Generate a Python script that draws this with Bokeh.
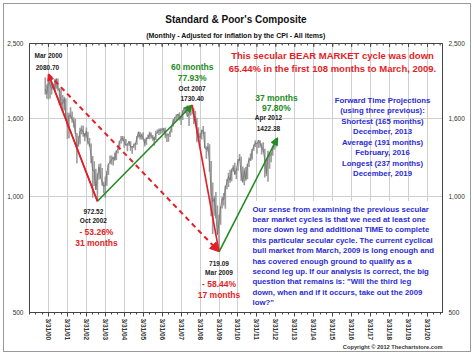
import numpy as np
from datetime import datetime
from bokeh.plotting import figure
from bokeh.models import (Range1d, FixedTicker, LogAxis, NumeralTickFormatter,
                          Label, Arrow, NormalHead, BoxAnnotation, Title)
from bokeh.core.properties import value
from bokeh.embed import file_html
from bokeh.resources import INLINE

# ---------------- data (inflation-adjusted monthly S&P, Jan 2000 .. Apr 2012) -------------
high = [
    2040, 1956, 2080.70, 2051, 1987, 1968, 2022, 2031, 2027, 1917, 1905, 1836,
    1819, 1801, 1655, 1651, 1706, 1664, 1608, 1591, 1464, 1439, 1511, 1530,
    1529, 1463, 1513, 1474, 1421, 1375, 1275, 1235, 1182, 1148, 1216, 1219,
    1187, 1093, 1128, 1164, 1218, 1279, 1279, 1269, 1302, 1318, 1334, 1396,
    1438, 1437, 1433, 1412, 1375, 1396, 1392, 1353, 1375, 1381, 1437, 1476,
    1473, 1459, 1469, 1415, 1426, 1448, 1474, 1467, 1446, 1430, 1483, 1494,
    1504, 1505, 1510, 1509, 1512, 1461, 1453, 1478, 1525, 1588, 1611, 1636,
    1643, 1658, 1619, 1676, 1708, 1709, 1727, 1672, 1707, 1730.40, 1696, 1672,
    1603, 1515, 1461, 1495, 1526, 1475, 1351, 1379, 1368, 1237, 1088, 1006,
    1028, 949, 897, 944, 1000, 1022, 1067, 1111, 1154, 1174, 1184, 1207,
    1224, 1184, 1252, 1291, 1271, 1197, 1185, 1194, 1215, 1263, 1294, 1330,
    1366, 1402, 1379, 1403, 1401, 1376, 1384, 1332, 1250, 1316, 1303, 1298,
    1353, 1389, 1420, 1422.38]
low = [
    1840, 1795, 1789, 1798, 1842, 1896, 1882, 1906, 1880, 1727, 1723, 1659,
    1675, 1590, 1412, 1419, 1597, 1557, 1512, 1459, 1220, 1348, 1369, 1453,
    1431, 1392, 1425, 1366, 1347, 1223, 994, 1066, 1042, 972.52, 1108, 1114,
    1068, 1020, 994, 1067, 1138, 1213, 1212, 1205, 1239, 1246, 1294, 1325,
    1374, 1393, 1339, 1358, 1313, 1356, 1316, 1293, 1337, 1319, 1365, 1423,
    1407, 1408, 1405, 1350, 1363, 1411, 1409, 1416, 1397, 1355, 1404, 1459,
    1447, 1453, 1462, 1466, 1419, 1387, 1389, 1429, 1468, 1521, 1557, 1583,
    1599, 1576, 1535, 1583, 1648, 1647, 1615, 1525, 1623, 1635, 1545, 1576,
    1384, 1428, 1351, 1407, 1455, 1336, 1254, 1310, 1161, 890, 800, 892,
    877, 797, 719.09, 845, 931, 948, 930, 1045, 1059, 1087, 1097, 1160,
    1140, 1112, 1167, 1238, 1100, 1088, 1070, 1100, 1110, 1194, 1238, 1248,
    1317, 1345, 1293, 1338, 1341, 1286, 1309, 1122, 1132, 1093, 1182, 1228,
    1278, 1323, 1341, 1385]
close = [
    1900, 1851, 2015, 1950, 1907, 1942, 1906, 2022, 1904, 1891, 1738, 1745,
    1795, 1623, 1515, 1625, 1628, 1584, 1572, 1472, 1345, 1374, 1480, 1497,
    1469, 1434, 1480, 1383, 1371, 1272, 1170, 1172, 1042, 1130, 1193, 1125,
    1087, 1064, 1068, 1155, 1217, 1229, 1247, 1265, 1247, 1316, 1328, 1396,
    1408, 1420, 1387, 1359, 1368, 1390, 1344, 1347, 1358, 1367, 1421, 1470,
    1429, 1448, 1411, 1375, 1416, 1415, 1460, 1437, 1429, 1400, 1459, 1463,
    1487, 1486, 1493, 1501, 1448, 1445, 1449, 1476, 1520, 1575, 1604, 1621,
    1639, 1597, 1599, 1657, 1704, 1668, 1615, 1639, 1695, 1712, 1626, 1612,
    1503, 1444, 1422, 1483, 1484, 1344, 1324, 1347, 1223, 1027, 968, 989,
    900, 797, 862, 941, 988, 981, 1056, 1090, 1129, 1104, 1168, 1191,
    1143, 1175, 1239, 1256, 1152, 1091, 1166, 1110, 1207, 1249, 1246, 1325,
    1348, 1384, 1372, 1401, 1375, 1350, 1318, 1241, 1149, 1276, 1272, 1286,
    1332, 1377, 1408, 1398]

# turning points
pk_labels = ["Mar 2000", "Oct 2002", "Oct 2007", "Mar 2009", "Apr 2012"]
pk_values = [2080.70, 972.52, 1730.40, 719.09, 1422.38]

tick_labels = ["3/31/%02d" % y for y in range(0, 21)]
y_ticks = [500, 1000, 1600, 2500]

title_text = "Standard & Poor's Composite"
subtitle_text = "(Monthly - Adjusted for inflation by the CPI - All items)"
copyright_text = "Copyright \u00a9 2012 Thechartstore.com"
headline = "This secular BEAR MARKET cycle was down"
projection_lines = ["Forward Time Projections", "(using three previous):",
                    "Shortest (165 months)", "December, 2013",
                    "Average (191 months)", "February, 2016",
                    "Longest (237 months)", "December, 2019"]
paragraph_lines = [
    "Our sense from examining the previous secular",
    "bear market cycles is that we need at least one",
    "more down leg and additional TIME to complete",
    "this particular secular cycle.  The current cyclical",
    "bull market from March, 2009 is long enough and",
    "has covered enough ground to qualify as a",
    "second leg up.  If our analysis is correct, the big",
    "question that remains is:  \"Will the third leg",
    "down, when and if it occurs, take out the 2009",
    "low?\""]

# ---------------- positions (month index, Jan 2000 = 1) ----------------
months = np.arange(1, len(close) + 1)
def month_index(lbl):
    d = datetime.strptime(lbl, "%b %Y")
    return (d.year - 2000) * 12 + d.month
pk_m = [month_index(l) for l in pk_labels]
tick_pos = [3 + 12 * i for i in range(len(tick_labels))]
minor_pos = list(range(-9, 253, 4))

FONT = "Liberation Sans"
RED = "#e41e26"
GREEN = "#228b22"
BLUE = "#2b2bd6"
DARK = "#222222"
AXC = "#444444"

p = figure(width=474, height=355, output_backend="svg", toolbar_location=None,
           y_axis_type="log", x_range=Range1d(-9, 252.5), y_range=Range1d(500, 2500),
           min_border_left=29, min_border_right=32, min_border_top=43, min_border_bottom=43)
p.border_fill_alpha = 0
p.background_fill_color = "white"
p.outline_line_color = AXC
p.outline_line_width = 1
p.styles = {"background-color": "white",
            "box-shadow": "inset 0 0 0 3px #ffffff, inset 0 0 0 4px #9a9a9a"}

# titles
p.add_layout(Title(text=subtitle_text, align="center", text_font=FONT, text_font_size="7px",
                   text_font_style="bold", text_color="#111111", standoff=9), "above")
p.add_layout(Title(text=title_text, align="center", text_font=FONT, text_font_size="10px",
                   text_font_style="bold", text_color="#111111", standoff=2), "above")

xt = FixedTicker(ticks=tick_pos, minor_ticks=minor_pos)
yt = FixedTicker(ticks=y_ticks)

xa = p.xaxis[0]
xa.ticker = xt
xa.major_label_overrides = {t: l for t, l in zip(tick_pos, tick_labels)}
xa.major_label_orientation = "vertical"
xa.major_label_text_font = FONT
xa.major_label_text_font_size = "6.5px"
xa.major_label_text_font_style = "bold"
xa.major_label_text_color = "#333333"
xa.major_label_standoff = 2
xa.major_tick_out = 4
xa.major_tick_in = 0
xa.minor_tick_out = 2
xa.minor_tick_in = 0
xa.axis_line_color = AXC
xa.major_tick_line_color = AXC
xa.minor_tick_line_color = AXC

p.add_layout(Title(text=copyright_text, align="right", vertical_align="top", text_font=FONT,
                   text_font_size="5.7px", text_font_style="bold", text_color="#333333",
                   standoff=0), "below")

def style_y(ax):
    ax.ticker = yt
    ax.formatter = NumeralTickFormatter(format="0,0")
    ax.major_label_text_font = FONT
    ax.major_label_text_font_size = "6.5px"
    ax.major_label_text_color = "#333333"
    ax.major_label_standoff = 6
    ax.major_tick_out = 0
    ax.major_tick_in = 0
    ax.minor_tick_line_color = None
    ax.axis_line_color = AXC

style_y(p.yaxis[0])
right = LogAxis()
style_y(right)
p.add_layout(right, "right")

p.xgrid.ticker = xt
p.ygrid.ticker = yt
p.xgrid.grid_line_color = "#cfcfcf"
p.ygrid.grid_line_color = "#cfcfcf"

# white box behind paragraph
p.add_layout(BoxAnnotation(left=123.4, right=252.3, bottom=501, top=975,
                           fill_color="white", fill_alpha=1.0, line_color=None,
                           level="underlay"))

# tick marks along the top edge of the frame (clipped half inside)
p.scatter(x=tick_pos, y=[2500] * len(tick_pos), marker="dash", angle=np.pi / 2, size=7,
          line_color=AXC, line_width=1)
p.scatter(x=minor_pos, y=[2500] * len(minor_pos), marker="dash", angle=np.pi / 2, size=4,
          line_color=AXC, line_width=1)

# price bars
p.segment(x0=months, y0=low, x1=months, y1=high, line_color="#9c9c9c", line_width=1.6)
p.line(months, close, line_color="#707070", line_width=0.8)

# trend legs
legs = [(0, 1, RED, "solid", False), (1, 2, GREEN, "solid", True),
        (2, 3, RED, "solid", False), (3, 4, GREEN, "solid", True),
        (0, 3, RED, "5 4", True)]
for a, b, col, dash, head in legs:
    p.add_layout(Arrow(x_start=pk_m[a], y_start=pk_values[a], x_end=pk_m[b], y_end=pk_values[b],
                       line_color=col, line_width=2 if dash != "solid" else 1.6, line_dash=dash,
                       end=NormalHead(size=9 if dash != "solid" else 7, fill_color=col,
                                      line_color=col) if head else None))
p.add_layout(Arrow(x_start=pk_m[1], y_start=pk_values[1], x_end=pk_m[0], y_end=pk_values[0],
                   line_color=RED, line_width=1.6,
                   end=NormalHead(size=6, fill_color=RED, line_color=RED)))

# point annotations
def txt(idx, text, dx, dy, color, size):
    p.text(x=[pk_m[idx]], y=[pk_values[idx]], text=[text], x_offset=dx, y_offset=dy,
           text_color=color, text_font=value(FONT), text_font_size=value(size),
           text_font_style="bold", text_align="center", text_baseline="middle")

fmt = lambda v: "%.2f" % v
txt(0, pk_labels[0], 0, -19, DARK, "6.5px")
txt(0, fmt(pk_values[0]), -1, -7, DARK, "6.5px")
txt(1, fmt(pk_values[1]), -4, 10, DARK, "6.5px")
txt(1, pk_labels[1], -4, 19.5, DARK, "6.5px")
txt(2, pk_labels[2], 0, -16.5, DARK, "6.5px")
txt(2, fmt(pk_values[2]), 0, -6.5, DARK, "6.5px")
txt(3, fmt(pk_values[3]), 0, 12, DARK, "6.5px")
txt(3, pk_labels[3], 0, 21, DARK, "6.5px")
txt(4, pk_labels[4], -9, -20, DARK, "6.5px")
txt(4, fmt(pk_values[4]), -9, -9.5, DARK, "6.5px")

def change(a, b):
    pct = (pk_values[b] / pk_values[a] - 1) * 100
    s = ("- %.2f%%" % abs(pct)) if pct < 0 else ("%.2f%%" % pct)
    return s, "%d months" % (pk_m[b] - pk_m[a])

s, m = change(0, 1)
txt(1, s, -1, 31, RED, "8.5px"); txt(1, m, -1, 42, RED, "8.5px")
s, m = change(2, 3)
txt(3, s, 0, 32, RED, "8.5px"); txt(3, m, 0, 43, RED, "8.5px")
s, m = change(1, 2)
txt(2, m, 0, -37.5, GREEN, "8.5px"); txt(2, s, 0, -26.5, GREEN, "8.5px")
s, m = change(3, 4)
txt(4, m, -1, -40, GREEN, "8.5px"); txt(4, s, -1, -30, GREEN, "8.5px")

# texts inside the frame (screen units relative to plot frame: left=29, bottom=312 in page px)
def lab(px, py, text, color, size, align="center", style="bold"):
    p.add_layout(Label(x=px - 29, y=312 - py, x_units="screen", y_units="screen", text=text,
                       text_color=color, text_font=FONT, text_font_size=size,
                       text_font_style=style, text_align=align, text_baseline="middle"))

decline = (1 - pk_values[3] / pk_values[0]) * 100
lab(332, 55, headline, RED, "9.5px")
lab(332, 68, "%.2f%% in the first %d months to March, 2009." % (decline, pk_m[3] - pk_m[0]),
    RED, "9.5px")

for i, t in enumerate(projection_lines):
    lab(382, 100 + i * 10.45, t, BLUE, "7.8px")
for i, t in enumerate(paragraph_lines):
    lab(252, 208.5 + i * 10.4, t, BLUE, "7.8px", align="left")

open("out.html", "w").write(file_html(p, INLINE))
